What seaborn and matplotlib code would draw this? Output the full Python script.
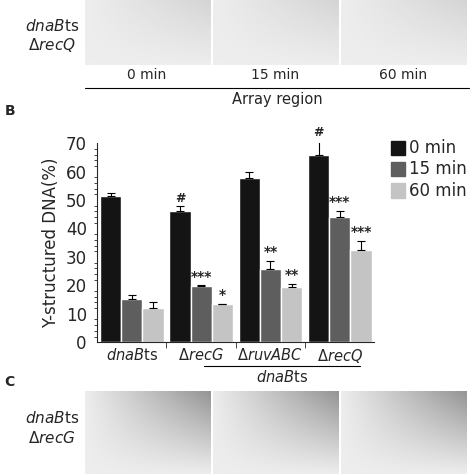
import numpy as np
import pandas as pd
import matplotlib
matplotlib.use("Agg")
import matplotlib.pyplot as plt
import seaborn as sns

strains = ["dnaBts", "ΔrecG", "ΔruvABC", "ΔrecQ"]
times = ["0 min", "15 min", "60 min"]
values = {
    "0 min": [51.5, 46.0, 57.6, 65.7],
    "15 min": [15.3, 19.7, 25.7, 44.0],
    "60 min": [12.0, 13.3, 19.4, 32.6],
}
errors = {
    "0 min": [1.0, 1.8, 2.3, 5.0],
    "15 min": [1.4, 0.3, 2.8, 2.2],
    "60 min": [2.2, 0.3, 1.2, 3.0],
}
marks = {
    "0 min": ["", "#", "", "#"],
    "15 min": ["", "***", "**", "***"],
    "60 min": ["", "*", "**", "***"],
}
colors = ["#141414", "#5e5e5e", "#c4c4c4"]
tick_labels = [r"$\it{dnaB}$ts", r"Δ$\it{recG}$", r"Δ$\it{ruvABC}$", r"Δ$\it{recQ}$"]

rows = []
for t in times:
    for s, v in zip(strains, values[t]):
        rows.append({"strain": s, "time": t, "value": v})
df = pd.DataFrame(rows)

sns.set_style("white")
plt.rcParams["font.family"] = ["DejaVu Sans"]
fig = plt.figure(figsize=(4.74, 4.74), dpi=100)

# gel-like panels (A top, C bottom)
def gel(rect, dark):
    ax = fig.add_axes(rect)
    xx, yy = np.meshgrid(np.linspace(0, 1, 200), np.linspace(0, 1, 60))
    img = 0.93 - dark * (1 - yy) * xx
    ax.imshow(img, cmap="gray", vmin=0, vmax=1, aspect="auto")
    ax.set_axis_off()

for i in range(3):
    gel([0.18 + i * 0.27, 0.862, 0.265, 0.138], 0.1)
    gel([0.18 + i * 0.27, 0.0, 0.265, 0.175], 0.35)

fig.text(0.11, 0.945, r"$\it{dnaB}$ts", ha="center", va="center", fontsize=11)
fig.text(0.11, 0.905, r"Δ$\it{recQ}$", ha="center", va="center", fontsize=11)
for i, t in enumerate(times):
    fig.text(0.31 + i * 0.27, 0.842, t, ha="center", va="center", fontsize=10)
fig.add_artist(plt.Line2D([0.18, 0.99], [0.815, 0.815], color="black", lw=0.8))
fig.text(0.585, 0.79, "Array region", ha="center", va="center", fontsize=10.5)

fig.text(0.01, 0.765, "B", fontsize=10, fontweight="bold", va="center")
fig.text(0.01, 0.195, "C", fontsize=10, fontweight="bold", va="center")
fig.text(0.11, 0.118, r"$\it{dnaB}$ts", ha="center", va="center", fontsize=11)
fig.text(0.11, 0.075, r"Δ$\it{recG}$", ha="center", va="center", fontsize=11)

ax = fig.add_axes([0.205, 0.278, 0.585, 0.42])
sns.barplot(data=df, x="strain", y="value", hue="time", palette=colors,
            width=0.92, ax=ax, legend=False, errorbar=None)
n = len(strains)
for k, t in enumerate(times):
    bars = ax.patches[k * n:(k + 1) * n]
    for b, e, m in zip(bars, errors[t], marks[t]):
        cx = b.get_x() + b.get_width() / 2
        top = b.get_height()
        ax.errorbar(cx, top, yerr=[[0], [e]], color="black", capsize=3, lw=0.8, capthick=0.8)
        if m:
            ax.text(cx, top + e + 0.6, m, ha="center", va="bottom", fontsize=9 if m == "#" else 10,
                    fontweight="bold")
ax.set_ylim(0, 70)
ax.set_yticks(range(0, 71, 10))
ax.set_yticks(range(0, 71, 2), minor=True)
ax.tick_params(axis="y", which="major", length=4, labelsize=12)
ax.tick_params(axis="y", which="minor", length=2, left=True)
ax.set_xlim(-0.5, 3.5)
ax.set_xticks([0.5, 1.5, 2.5], minor=True)
ax.tick_params(axis="x", which="minor", length=4, bottom=True)
ax.set_xticks(range(n))
ax.set_xticklabels(tick_labels, fontsize=10.5)
ax.tick_params(axis="x", which="major", length=0)
ax.set_xlabel("")
ax.set_ylabel("Y-structured DNA(%)", fontsize=12)
for s in ["top", "right"]:
    ax.spines[s].set_visible(False)

fig.add_artist(plt.Line2D([0.43, 0.76], [0.228, 0.228], color="black", lw=0.8))
fig.text(0.595, 0.205, r"$\it{dnaB}$ts", ha="center", va="center", fontsize=10.5)

for i, t in enumerate(times):
    y = 0.688 - i * 0.045
    fig.add_artist(plt.Rectangle((0.825, y - 0.015), 0.03, 0.03, color=colors[i]))
    fig.text(0.862, y, t, va="center", fontsize=12)

fig.savefig("out.png", dpi=100)
